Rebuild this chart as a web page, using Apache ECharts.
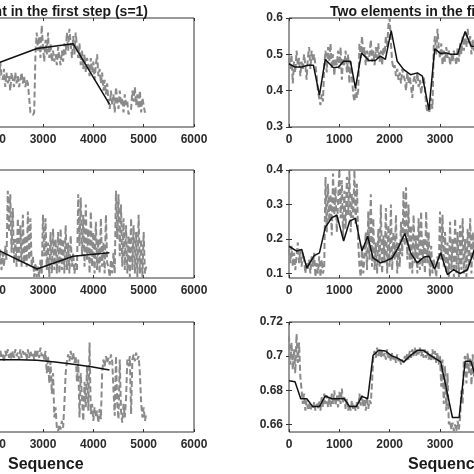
<!DOCTYPE html>
<html>
<head>
<meta charset="utf-8">
<script src="https://cdn.jsdelivr.net/npm/echarts@6/dist/echarts.min.js"></script>
<style>
  html, body { margin: 0; padding: 0; background: #fff; }
  #chart { width: 474px; height: 474px; }
</style>
</head>
<body>
<div id="chart"></div>
<script>
// sequence sampling of the gray (dashed) traces
const seqStep = 25
const leftStart = 2000 // left column only shows ~2150..6000
const rightStart = 0

const titles = ['One element in the first step (s=1)', 'Two elements in the first step (s=2)']
const yTicksTop = [0.3, 0.4, 0.5, 0.6]
const yTicksMid = [0.1, 0.2, 0.3, 0.4]
const yTicksBot = [0.66, 0.68, 0.7, 0.72]

// ---- left column (s=1) ----
const grayTopL = [
  0.47, 0.43, 0.48, 0.44, 0.46, 0.42, 0.48, 0.44, 0.43, 0.46, 0.41, 0.45, 0.42, 0.44, 0.40, 0.45,
  0.43, 0.41, 0.45, 0.42, 0.44, 0.41, 0.43, 0.45, 0.42, 0.44, 0.41, 0.43, 0.42, 0.38, 0.34, 0.335,
  0.333, 0.34, 0.50, 0.56, 0.51, 0.55, 0.49, 0.58, 0.52, 0.48, 0.54, 0.50, 0.56, 0.49, 0.53, 0.48,
  0.51, 0.48, 0.50, 0.47, 0.52, 0.49, 0.47, 0.51, 0.48, 0.53, 0.50, 0.56, 0.51, 0.57, 0.53, 0.49,
  0.55, 0.50, 0.56, 0.52, 0.49, 0.53, 0.47, 0.51, 0.46, 0.50, 0.45, 0.49, 0.47, 0.44, 0.49, 0.45,
  0.48, 0.43, 0.47, 0.50, 0.44, 0.46, 0.42, 0.45, 0.40, 0.43, 0.39, 0.42, 0.37, 0.35, 0.40, 0.36,
  0.39, 0.34, 0.41, 0.37, 0.35, 0.40, 0.36, 0.38, 0.34, 0.39, 0.36, 0.37, 0.335, 0.333, 0.35, 0.40,
  0.37, 0.41, 0.36, 0.39, 0.35, 0.40, 0.34, 0.38, 0.36, 0.34, 0.35
]
const blackTopLX = [1440, 2160, 2880, 3600, 4320]
const blackTopLY = [0.45, 0.479, 0.516, 0.529, 0.363]

const grayMidL = [
  0.16, 0.12, 0.20, 0.11, 0.18, 0.12, 0.17, 0.11, 0.16, 0.12, 0.18, 0.14, 0.34, 0.22, 0.33, 0.16,
  0.29, 0.13, 0.20, 0.12, 0.26, 0.13, 0.24, 0.12, 0.27, 0.13, 0.21, 0.12, 0.28, 0.14, 0.26, 0.12,
  0.15, 0.09, 0.13, 0.09, 0.12, 0.09, 0.14, 0.10, 0.27, 0.15, 0.26, 0.11, 0.19, 0.09, 0.22, 0.10,
  0.23, 0.11, 0.20, 0.10, 0.22, 0.10, 0.23, 0.11, 0.20, 0.10, 0.24, 0.11, 0.19, 0.10, 0.21, 0.12,
  0.16, 0.10, 0.13, 0.11, 0.33, 0.18, 0.32, 0.15, 0.27, 0.12, 0.30, 0.14, 0.23, 0.10, 0.28, 0.12,
  0.22, 0.10, 0.25, 0.11, 0.20, 0.10, 0.26, 0.12, 0.19, 0.10, 0.27, 0.13, 0.12, 0.09, 0.14, 0.10,
  0.16, 0.10, 0.34, 0.20, 0.33, 0.15, 0.30, 0.12, 0.26, 0.11, 0.24, 0.10, 0.21, 0.09, 0.26, 0.11,
  0.24, 0.10, 0.22, 0.09, 0.27, 0.10, 0.20, 0.09, 0.22, 0.10, 0.12
]
const blackMidLX = [1440, 2160, 2880, 3600, 4320]
const blackMidLY = [0.19, 0.164, 0.113, 0.150, 0.160]

const grayBotL = [
  0.701, 0.698, 0.703, 0.699, 0.702, 0.698, 0.704, 0.699, 0.701, 0.697, 0.703, 0.700, 0.704, 0.699, 0.702, 0.698,
  0.703, 0.699, 0.704, 0.700, 0.702, 0.698, 0.704, 0.699, 0.703, 0.700, 0.702, 0.698, 0.704, 0.699, 0.703, 0.700,
  0.702, 0.698, 0.704, 0.699, 0.703, 0.699, 0.705, 0.700, 0.702, 0.698, 0.703, 0.690, 0.700, 0.684, 0.697, 0.678,
  0.690, 0.664, 0.670, 0.658, 0.656, 0.660, 0.657, 0.662, 0.658, 0.672, 0.690, 0.697, 0.701, 0.697, 0.703, 0.698,
  0.702, 0.696, 0.700, 0.685, 0.698, 0.664, 0.690, 0.675, 0.662, 0.685, 0.670, 0.694, 0.668, 0.708, 0.666, 0.672,
  0.662, 0.670, 0.664, 0.668, 0.661, 0.669, 0.663, 0.690, 0.698, 0.694, 0.700, 0.696, 0.699, 0.695, 0.701, 0.697,
  0.680, 0.665, 0.700, 0.672, 0.663, 0.698, 0.668, 0.661, 0.672, 0.664, 0.675, 0.698, 0.694, 0.700, 0.666, 0.698,
  0.701, 0.697, 0.702, 0.698, 0.700, 0.690, 0.672, 0.664, 0.670, 0.662, 0.666
]
const blackBotLX = [1440, 2160, 2520, 2880, 3240, 3600, 3960, 4320]
const blackBotLY = [0.6975, 0.6978, 0.6978, 0.6976, 0.6966, 0.6952, 0.6937, 0.6918]

// ---- right column (s=2) ----
const grayTopR = [
  0.49, 0.46, 0.50, 0.42, 0.48, 0.45, 0.51, 0.47, 0.49, 0.44, 0.48, 0.46, 0.50, 0.47, 0.43, 0.49,
  0.52, 0.46, 0.51, 0.48, 0.50, 0.47, 0.44, 0.40, 0.38, 0.36, 0.39, 0.37, 0.47, 0.51, 0.45, 0.52,
  0.48, 0.53, 0.46, 0.50, 0.44, 0.49, 0.47, 0.51, 0.46, 0.52, 0.43, 0.49, 0.47, 0.51, 0.45, 0.50,
  0.42, 0.48, 0.44, 0.39, 0.37, 0.41, 0.38, 0.40, 0.53, 0.49, 0.55, 0.50, 0.52, 0.47, 0.51, 0.48,
  0.50, 0.54, 0.48, 0.51, 0.47, 0.52, 0.49, 0.53, 0.48, 0.51, 0.47, 0.52, 0.50, 0.55, 0.52, 0.58,
  0.60, 0.53, 0.48, 0.46, 0.47, 0.44, 0.46, 0.43, 0.45, 0.42, 0.46, 0.44, 0.43, 0.40, 0.45, 0.42,
  0.44, 0.41, 0.38, 0.43, 0.44, 0.42, 0.45, 0.41, 0.43, 0.39, 0.42, 0.44, 0.41, 0.36, 0.34, 0.35,
  0.34, 0.38, 0.35, 0.52, 0.55, 0.50, 0.57, 0.52, 0.49, 0.53, 0.47, 0.51, 0.48, 0.52, 0.49, 0.51,
  0.47, 0.50, 0.48, 0.51, 0.49, 0.47, 0.52, 0.48, 0.53, 0.50, 0.55, 0.51, 0.56, 0.52, 0.57, 0.53,
  0.55, 0.50, 0.54, 0.51, 0.53, 0.50
]
const blackTopRX = [0, 120, 250, 370, 485, 605, 720, 885, 985, 1085, 1220, 1320, 1440, 1585, 1715, 1815,
  1915, 2030, 2150, 2280, 2415, 2550, 2650, 2780, 2895, 3015, 3115, 3215, 3350, 3500, 3615, 3720]
const blackTopRY = [0.474, 0.465, 0.465, 0.470, 0.470, 0.388, 0.486, 0.463, 0.465, 0.481, 0.481, 0.407,
  0.504, 0.483, 0.483, 0.495, 0.486, 0.565, 0.481, 0.458, 0.444, 0.449, 0.440, 0.347, 0.515, 0.502,
  0.504, 0.500, 0.500, 0.563, 0.523, 0.520]

const grayMidR = [
  0.17, 0.13, 0.18, 0.12, 0.16, 0.11, 0.15, 0.19, 0.13, 0.17, 0.12, 0.16, 0.14, 0.10, 0.13, 0.11,
  0.14, 0.10, 0.15, 0.12, 0.16, 0.09, 0.13, 0.10, 0.15, 0.09, 0.14, 0.10, 0.12, 0.38, 0.22, 0.36,
  0.25, 0.33, 0.21, 0.39, 0.27, 0.35, 0.22, 0.31, 0.40, 0.26, 0.37, 0.20, 0.34, 0.23, 0.38, 0.27,
  0.40, 0.22, 0.33, 0.26, 0.40, 0.24, 0.36, 0.19, 0.12, 0.09, 0.18, 0.10, 0.15, 0.22, 0.11, 0.28,
  0.14, 0.33, 0.12, 0.26, 0.11, 0.19, 0.10, 0.23, 0.12, 0.30, 0.10, 0.21, 0.13, 0.29, 0.10, 0.24,
  0.12, 0.30, 0.11, 0.22, 0.14, 0.27, 0.10, 0.19, 0.12, 0.25, 0.15, 0.34, 0.18, 0.35, 0.14, 0.30,
  0.11, 0.24, 0.10, 0.27, 0.13, 0.21, 0.10, 0.26, 0.11, 0.28, 0.12, 0.20, 0.10, 0.28, 0.13, 0.22,
  0.09, 0.18, 0.10, 0.14, 0.12, 0.09, 0.15, 0.11, 0.28, 0.14, 0.27, 0.12, 0.22, 0.10, 0.19, 0.09,
  0.25, 0.11, 0.20, 0.09, 0.26, 0.10, 0.22, 0.09, 0.24, 0.11, 0.26, 0.10, 0.20, 0.09, 0.23, 0.12,
  0.26, 0.10, 0.22, 0.14, 0.25, 0.12
]
const blackMidRX = [0, 153, 253, 353, 500, 605, 720, 852, 952, 1085, 1205, 1317, 1450, 1563, 1670, 1816,
  1916, 2050, 2182, 2302, 2415, 2548, 2681, 2781, 2894, 3014, 3147, 3267, 3400, 3546, 3686]
const blackMidRY = [0.179, 0.165, 0.170, 0.116, 0.152, 0.160, 0.233, 0.262, 0.269, 0.194, 0.252, 0.260,
  0.165, 0.208, 0.145, 0.131, 0.136, 0.145, 0.179, 0.216, 0.160, 0.131, 0.148, 0.150, 0.113, 0.160,
  0.097, 0.111, 0.100, 0.111, 0.170]

const grayBotR = [
  0.712, 0.695, 0.708, 0.692, 0.704, 0.690, 0.713, 0.696, 0.708, 0.688, 0.680, 0.672, 0.678, 0.668, 0.674, 0.669,
  0.672, 0.668, 0.671, 0.669, 0.673, 0.668, 0.672, 0.669, 0.674, 0.668, 0.676, 0.670, 0.678, 0.672, 0.677, 0.670,
  0.676, 0.670, 0.678, 0.672, 0.680, 0.671, 0.677, 0.670, 0.679, 0.672, 0.681, 0.673, 0.676, 0.669, 0.675, 0.668,
  0.672, 0.668, 0.674, 0.669, 0.671, 0.668, 0.673, 0.669, 0.678, 0.671, 0.677, 0.670, 0.675, 0.668, 0.676, 0.669,
  0.674, 0.672, 0.685, 0.700, 0.703, 0.699, 0.705, 0.700, 0.704, 0.699, 0.703, 0.700, 0.702, 0.698, 0.704, 0.699,
  0.701, 0.697, 0.702, 0.698, 0.700, 0.696, 0.701, 0.697, 0.699, 0.695, 0.698, 0.696, 0.700, 0.697, 0.702, 0.698,
  0.703, 0.699, 0.704, 0.700, 0.705, 0.700, 0.704, 0.701, 0.705, 0.700, 0.703, 0.699, 0.704, 0.699, 0.703, 0.698,
  0.702, 0.697, 0.704, 0.698, 0.703, 0.696, 0.702, 0.695, 0.700, 0.682, 0.698, 0.672, 0.694, 0.668, 0.690, 0.660,
  0.662, 0.657, 0.661, 0.656, 0.660, 0.656, 0.662, 0.657, 0.664, 0.680, 0.672, 0.698, 0.700, 0.684, 0.702, 0.690,
  0.699, 0.683, 0.701, 0.688, 0.698, 0.685
]
const blackBotRX = [0, 120, 233, 353, 472, 605, 718, 852, 985, 1098, 1204, 1337, 1450, 1564, 1670, 1783,
  1916, 2049, 2149, 2282, 2415, 2548, 2668, 2801, 3014, 3247, 3380, 3500, 3613, 3686]
const blackBotRY = [0.6856, 0.685, 0.675, 0.675, 0.6704, 0.6704, 0.6766, 0.675, 0.675, 0.675, 0.6704, 0.6704,
  0.6764, 0.675, 0.7004, 0.7034, 0.703, 0.700, 0.699, 0.6966, 0.7004, 0.7034, 0.7034, 0.7006, 0.6966,
  0.664, 0.664, 0.697, 0.697, 0.690]

const panels = [
  { gray: grayTopL, start: leftStart, bx: blackTopLX, by: blackTopLY },
  { gray: grayMidL, start: leftStart, bx: blackMidLX, by: blackMidLY },
  { gray: grayBotL, start: leftStart, bx: blackBotLX, by: blackBotLY },
  { gray: grayTopR, start: rightStart, bx: blackTopRX, by: blackTopRY },
  { gray: grayMidR, start: rightStart, bx: blackMidRX, by: blackMidRY },
  { gray: grayBotR, start: rightStart, bx: blackBotRX, by: blackBotRY }
]

const rows = [
  { top: 18, height: 109, min: 0.3, max: 0.6, ticks: yTicksTop },
  { top: 170, height: 108, min: 0.087, max: 0.4, ticks: yTicksMid },
  { top: 322, height: 110, min: 0.6555, max: 0.72, ticks: yTicksBot }
]
const colLeft = [-108, 289]
const colWidth = 302

const axisColor = '#333'
const labelFont = { color: '#2b2b2b', fontSize: 12, fontWeight: 'bold', fontFamily: 'Liberation Sans, Arial' }

const grid = []
const xAxis = []
const yAxis = []
const series = []

panels.forEach((p, i) => {
  const col = i < 3 ? 0 : 1
  const row = rows[i % 3]
  grid.push({
    left: colLeft[col], top: row.top, width: colWidth, height: row.height,
    outerBoundsMode: 'none', containLabel: false,
    show: true, borderColor: axisColor, borderWidth: 1, backgroundColor: '#fff'
  })
  ;['bottom', 'top'].forEach((pos, k) => {
    xAxis.push({
      type: 'value', gridIndex: i, position: pos, min: 0, max: 6000, interval: 1000,
      axisLine: { show: false },
      axisTick: { show: true, inside: true, length: 3, lineStyle: { color: axisColor } },
      axisLabel: Object.assign({ show: k === 0, margin: 7, hideOverlap: false, formatter: (v) => String(v) }, labelFont),
      splitLine: { show: false }
    })
  })
  ;['left', 'right'].forEach((pos, k) => {
    yAxis.push({
      type: 'value', gridIndex: i, position: pos, min: row.min, max: row.max,
      axisLine: { show: false },
      axisTick: { show: true, inside: true, length: 3, customValues: row.ticks, lineStyle: { color: axisColor } },
      axisLabel: Object.assign({ show: k === 0, margin: 6, customValues: row.ticks, formatter: (v) => String(v) }, labelFont),
      splitLine: { show: false }
    })
  })
  series.push({
    type: 'line', xAxisIndex: 2 * i, yAxisIndex: 2 * i, showSymbol: false, silent: true,
    data: p.gray.map((v, j) => [p.start + j * seqStep, v]),
    lineStyle: { color: '#8a8a8a', width: 2, type: [6, 3] },
    z: 2
  })
  series.push({
    type: 'line', xAxisIndex: 2 * i, yAxisIndex: 2 * i, showSymbol: false, silent: true,
    data: p.bx.map((x, j) => [x, p.by[j]]),
    lineStyle: { color: '#111', width: 1.5 },
    z: 3
  })
})

const titleFont = { color: '#1a1a1a', fontSize: 14, fontWeight: 'bold', fontFamily: 'Liberation Sans, Arial' }
// left title is cut by the page edge, so anchor it by its right end
const title = [
  { text: titles[0], right: 474 - 153, top: 0, textStyle: titleFont },
  { text: titles[1], left: 325, top: 0, textStyle: titleFont },
  { text: 'Sequence', left: 3, top: 452, textStyle: Object.assign({}, titleFont, { fontSize: 16 }) },
  { text: 'Sequence', left: 403, top: 452, textStyle: Object.assign({}, titleFont, { fontSize: 16 }) }
]

const chart = echarts.init(document.getElementById('chart'))
chart.setOption({
  animation: false,
  backgroundColor: '#fff',
  title: title,
  grid: grid,
  xAxis: xAxis,
  yAxis: yAxis,
  series: series
})
</script>
</body>
</html>
